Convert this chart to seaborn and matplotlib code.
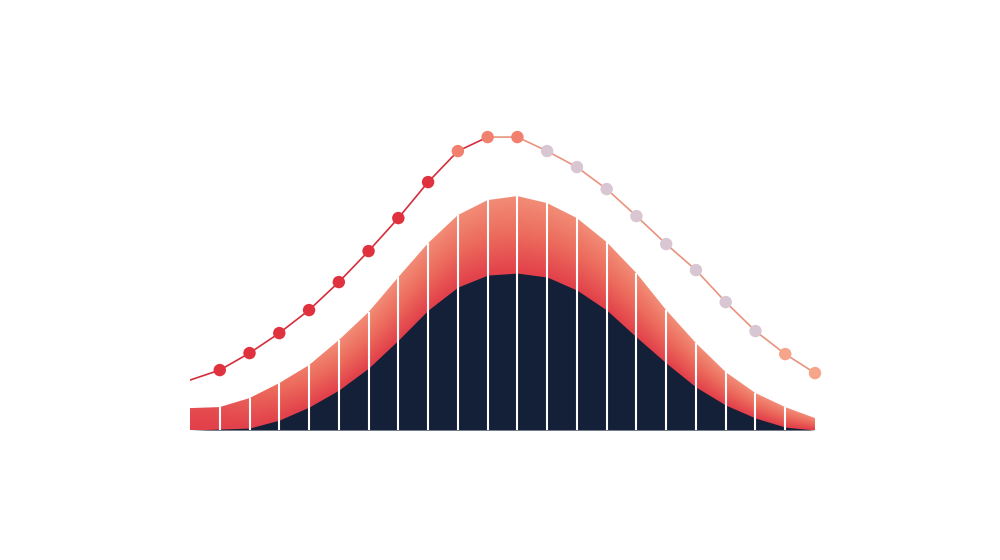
import numpy as np
import matplotlib.pyplot as plt
import seaborn as sns
from matplotlib.colors import LinearSegmentedColormap

# column edges (21 columns) and the heights
edges = np.arange(22)
band_top = [22, 23, 32, 47, 65, 90, 118, 153, 187, 215, 230,
            234, 227, 212, 188, 157, 120, 87, 58, 37, 23, 12]
curve_dark = [0, 1, 2, 10, 23, 40, 62, 90, 120, 143, 155,
              157, 153, 140, 120, 93, 67, 43, 25, 12, 3, 0]

# dotted trend line (first point has no marker)
trend = [50, 60, 77, 97, 120, 148, 179, 212, 248, 279, 293,
         293, 279, 263, 241, 214, 186, 160, 128, 99, 76, 57]
trend_group = ["rise"] * 8 + ["top"] * 3 + ["fall"] * 8 + ["tail"] * 2
group_colors = {"rise": "#e0323e", "top": "#f2806e", "fall": "#d9c6d3", "tail": "#f6a48a"}

sns.set_theme(style="white")
fig = plt.figure(figsize=(10, 5.6), dpi=100)
ax = fig.add_axes([0.19, 0.232, 0.625, 0.5357])
ax.set_xlim(0, 21)
ax.set_ylim(0, 300)
ax.axis("off")

# gradient fill of the red band: deeper red near the navy curve and at the left end
xs = np.linspace(0, 21, 700)
ys = np.linspace(0, 300, 450)
X, Y = np.meshgrid(xs, ys)
top_i = np.interp(xs, edges, band_top)
dark_i = np.interp(xs, edges, curve_dark)
f = np.clip((Y - dark_i) / np.maximum(top_i - dark_i, 1), 0, 1)
f = f * np.clip(xs / 5, 0.15, 1)
cmap = LinearSegmentedColormap.from_list("band", ["#e2404a", "#ec6a5c", "#f28c76"])
im = ax.imshow(cmap(f), extent=(0, 21, 0, 300), origin="lower", aspect="auto", zorder=1)
band = ax.fill_between(edges, band_top, color="none", lw=0)
im.set_clip_path(band.get_paths()[0], transform=ax.transData)

# navy area
ax.fill_between(edges, curve_dark, color="#141f38", lw=0, zorder=2)

# white column separators
ax.vlines(edges[1:-1], 0, band_top[1:-1], color="white", lw=1.5, zorder=3)

# trend line, red on the rise and salmon on the way down
sns.lineplot(x=edges[:11], y=trend[:11], color="#d42e3c", lw=1.2, ax=ax, zorder=4)
sns.lineplot(x=edges[10:], y=trend[10:], color="#e9937f", lw=1.2, ax=ax, zorder=4)
sns.scatterplot(x=edges[1:], y=trend[1:], hue=trend_group, palette=group_colors,
                s=80, edgecolor="none", legend=False, ax=ax, zorder=5, clip_on=False)

fig.savefig("out.png", dpi=100, facecolor="white")
